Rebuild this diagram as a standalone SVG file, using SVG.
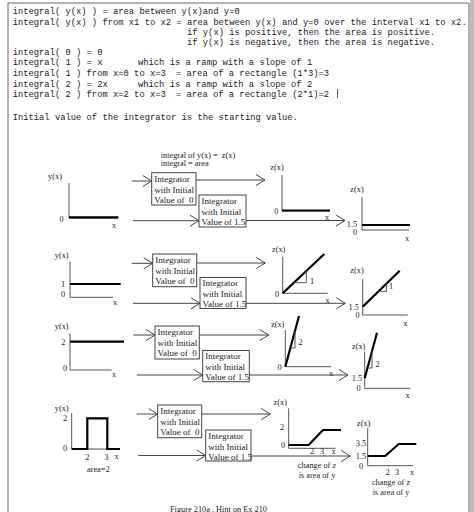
<svg xmlns="http://www.w3.org/2000/svg" width="474" height="512" viewBox="0 0 474 512">
<style>
.mono{font-family:"Liberation Mono","Courier New",monospace;font-size:8.8px;fill:#222}
.s{font-family:"Liberation Serif","Times New Roman",serif;font-size:8.3px;fill:#222}
.m{text-anchor:middle}
.bx{fill:#fff;stroke:#444;stroke-width:1}
.bt{font-family:"Liberation Serif","Times New Roman",serif;font-size:9px;fill:#222}
.ax{fill:none;stroke:#555;stroke-width:1}
.th{fill:none;stroke:#000;stroke-width:2.2}
.cn{fill:none;stroke:#444;stroke-width:1}
.ar{fill:none;stroke:#444;stroke-width:1;marker-end:url(#chev)}
</style>
<defs>
<marker id="chev" markerUnits="userSpaceOnUse" markerWidth="12" markerHeight="14" refX="10" refY="6.5" orient="auto" viewBox="0 0 12 14">
<path d="M1,1 L10,6.5 L1,12" fill="none" stroke="#444" stroke-width="1"/>
</marker>
</defs>
<rect width="474" height="512" fill="#fff"/>
<g id="frame">
<path d="M8,512 V3 H469 V512" fill="none" stroke="#666" stroke-width="1"/>
<rect x="470" y="0" width="4" height="512" fill="#bbb"/>
</g>
<g id="notes">
<text class="mono" x="12.7" y="13.7">integral( y(x) ) = area between y(x)and y=0</text>
<text class="mono" x="12.7" y="24.5">integral( y(x) ) from x1 to x2 = area between y(x) and y=0 over the interval x1 to x2.</text>
<text class="mono" x="187" y="34.7">if y(x) is positive, then the area is positive.</text>
<text class="mono" x="187" y="44.7">if y(x) is negative, then the area is negative.</text>
<text class="mono" x="12.7" y="54.5">integral( 0 ) = 0</text>
<text class="mono" x="12.7" y="64.5">integral( 1 ) = x</text>
<text class="mono" x="138" y="64.5">which is a ramp with a slope of 1</text>
<text class="mono" x="12.7" y="76">integral( 1 ) from x=0 to x=3</text>
<text class="mono" x="176" y="76">= area of a rectangle (1*3)=3</text>
<text class="mono" x="12.7" y="86.5">integral( 2 ) = 2x</text>
<text class="mono" x="138" y="86.5">which is a ramp with a slope of 2</text>
<text class="mono" x="12.7" y="97">integral( 2 ) from x=2 to x=3</text>
<text class="mono" x="176" y="97">= area of a rectangle (2*1)=2</text>
<line x1="337.5" y1="89" x2="337.5" y2="98" stroke="#333" stroke-width="0.8"/>
<text class="mono" x="12.7" y="120.3">Initial value of the integrator is the starting value.</text>
</g>
<g id="heading">
<text class="s" x="160.7" y="157.5" xml:space="preserve">integral of y(x) =  z(x)</text>
<text class="s" x="160.7" y="166">integral = area</text>
</g>
<g id="connectors">
<line class="ar" x1="131.7" y1="181" x2="151.7" y2="181"/>
<line class="ar" x1="196" y1="180" x2="265" y2="180"/>
<line class="ar" x1="133" y1="220.7" x2="199" y2="220.7"/>
<line class="ar" x1="246" y1="220.5" x2="345" y2="220.5"/>
<line class="ar" x1="131.7" y1="263.3" x2="152.7" y2="263.3"/>
<line class="ar" x1="196.7" y1="263" x2="265.3" y2="263"/>
<line class="ar" x1="133" y1="303.3" x2="200" y2="303.3"/>
<line class="ar" x1="246" y1="303.3" x2="345.3" y2="303.3"/>
<line class="ar" x1="133.3" y1="335" x2="155" y2="335"/>
<line class="ar" x1="199.3" y1="335" x2="268.7" y2="335"/>
<line class="ar" x1="136.7" y1="375" x2="202.7" y2="375"/>
<line class="ar" x1="249.3" y1="375" x2="348" y2="375"/>
<line class="ar" x1="136.7" y1="414" x2="157.7" y2="414"/>
<line class="ar" x1="201.7" y1="414" x2="270.3" y2="414"/>
<line class="ar" x1="138.3" y1="455.5" x2="205.7" y2="455.5"/>
<line class="ar" x1="251" y1="456" x2="350.3" y2="456"/>
</g>
<g id="int1a"><rect class="bx" x="151.7" y="172.7" width="44.3" height="32.3"/>
<text class="bt" x="154.2" y="181.5">Integrator</text><text class="bt" x="154.2" y="192.5">with Initial</text><text class="bt" x="154.2" y="202.5" xml:space="preserve">Value of  0</text></g>
<g id="int1b"><rect class="bx" x="199" y="195" width="47" height="32"/>
<text class="bt" x="201.5" y="203.8">Integrator</text><text class="bt" x="201.5" y="214.8">with Initial</text><text class="bt" x="201.5" y="224.8">Value of 1.5</text></g>
<g id="int2a"><rect class="bx" x="152.7" y="254" width="44" height="32.7"/>
<text class="bt" x="155.2" y="262.8">Integrator</text><text class="bt" x="155.2" y="273.8">with Initial</text><text class="bt" x="155.2" y="283.8" xml:space="preserve">Value of  0</text></g>
<g id="int2b"><rect class="bx" x="200" y="277.5" width="46" height="31"/>
<text class="bt" x="202.5" y="286.3">Integrator</text><text class="bt" x="202.5" y="297.3">with Initial</text><text class="bt" x="202.5" y="307">Value of 1.5</text></g>
<g id="int3a"><rect class="bx" x="155" y="326" width="44.3" height="33"/>
<text class="bt" x="157.5" y="334.8">Integrator</text><text class="bt" x="157.5" y="345.8">with Initial</text><text class="bt" x="157.5" y="355.8" xml:space="preserve">Value of  0</text></g>
<g id="int3b"><rect class="bx" x="202.7" y="350.5" width="46.6" height="31.2"/>
<text class="bt" x="205.2" y="359.3">Integrator</text><text class="bt" x="205.2" y="370.3">with Initial</text><text class="bt" x="205.2" y="380.3">Value of 1.5</text></g>
<g id="int4a"><rect class="bx" x="157.7" y="405" width="44" height="32.7"/>
<text class="bt" x="160.2" y="413.8">Integrator</text><text class="bt" x="160.2" y="424.8">with Initial</text><text class="bt" x="160.2" y="434.8" xml:space="preserve">Value of  0</text></g>
<g id="int4b"><rect class="bx" x="205.7" y="430" width="45.3" height="31"/>
<text class="bt" x="208.2" y="438.8">Integrator</text><text class="bt" x="208.2" y="449.8">with Initial</text><text class="bt" x="208.2" y="459.6">Value of 1.5</text></g>
<g id="plot-y1">
<path class="ax" d="M69,183 V218 H118"/><path class="th" d="M69,217.3 H118.3"/>
<text class="s m" x="55" y="178.5">y(x)</text><text class="s m" x="61.7" y="222">0</text><text class="s m" x="114" y="227.5">x</text>
</g>
<g id="plot-z1a">
<path class="ax" d="M282,175 V211 H330"/><path class="th" d="M282,210.5 H330"/>
<text class="s m" x="277" y="169.5">z(x)</text><text class="s m" x="276.3" y="214">0</text><text class="s m" x="327" y="219.5">x</text>
</g>
<g id="plot-z1b">
<path class="ax" d="M362,197 V230 H409"/><path class="th" d="M362,225 H410"/>
<text class="s m" x="357" y="192">z(x)</text><text class="s m" x="352" y="226.5">1.5</text><text class="s m" x="355" y="235">0</text><text class="s m" x="407" y="240.5">x</text>
</g>
<g id="plot-y2">
<path class="ax" d="M70,261.7 V297.3 H113"/><path class="th" d="M70,284 H120.7"/>
<text class="s m" x="61.7" y="258">y(x)</text><text class="s m" x="63" y="287">1</text><text class="s m" x="63" y="297">0</text><text class="s m" x="115" y="305">x</text>
</g>
<g id="plot-z2a">
<path class="ax" d="M282.7,256.7 V293.3 H327.7"/><path class="th" d="M282.7,293.3 L324.3,254"/>
<path class="ax" d="M294,282.7 H306.3 V271"/>
<text class="s m" x="278.7" y="252">z(x)</text><text class="s m" x="312" y="283.5">1</text><text class="s m" x="277" y="297">0</text><text class="s m" x="327.7" y="302.5">x</text>
</g>
<g id="plot-z2b">
<path class="ax" d="M362.7,279.3 V315 H407.7"/><path class="th" d="M362.7,306.7 L399.7,270.7"/>
<path class="ax" d="M378.5,291.3 H386.5 V283.5"/>
<text class="s m" x="357" y="273">z(x)</text><text class="s m" x="391" y="289">1</text><text class="s m" x="353.7" y="309.5">1.5</text><text class="s m" x="357.7" y="318">0</text><text class="s m" x="405.3" y="325.5">x</text>
</g>
<g id="plot-y3">
<path class="ax" d="M70,333.3 V370 H111.7"/><path class="th" d="M70,341.7 H124"/>
<text class="s m" x="61.7" y="329">y(x)</text><text class="s m" x="63.3" y="344.5">2</text><text class="s m" x="65" y="371">0</text><text class="s m" x="114" y="377">x</text>
</g>
<g id="plot-z3a">
<path class="ax" d="M285.3,330 V366.7 H331"/><path class="th" d="M285.3,366.7 L299,316"/>
<path class="ax" d="M290.3,348 H295 V331"/>
<text class="s m" x="277.7" y="327">z(x)</text><text class="s m" x="300.5" y="344.5">2</text><text class="s m" x="279.7" y="369.5">0</text><text class="s m" x="331" y="375.5">x</text>
</g>
<g id="plot-z3b">
<path class="ax" d="M364.7,351.7 V388.3 H410.3"/><path class="th" d="M364.7,378.3 L377,332.7"/>
<path class="ax" d="M367.5,368 H372 V351.3"/>
<text class="s m" x="358.7" y="349">z(x)</text><text class="s m" x="377.5" y="367">2</text><text class="s m" x="357" y="381">1.5</text><text class="s m" x="358.7" y="391">0</text><text class="s m" x="407.7" y="397.5">x</text>
</g>
<g id="plot-y4">
<path class="ax" d="M71.7,413.3 V449 H120"/><path class="th" d="M71.7,449 H87.3 V418.3 H107.3 V449 H120"/>
<text class="s m" x="61.7" y="411">y(x)</text><text class="s m" x="65" y="421">2</text><text class="s m" x="65" y="451">0</text>
<text class="s m" x="87.3" y="459.5">2</text><text class="s m" x="106.7" y="459.5">3</text><text class="s m" x="116.7" y="458.5">x</text>
<text class="s m" x="98.3" y="472">area=2</text>
</g>
<g id="plot-z4a">
<path class="ax" d="M288.7,408.3 V448.3 H335.3"/><path class="th" d="M288.7,445 H308.7 L323,430 H341"/>
<text class="s m" x="280.3" y="404.5">z(x)</text><text class="s m" x="282" y="430">2</text><text class="s m" x="283" y="448">0</text>
<text class="s m" x="312" y="454">2</text><text class="s m" x="322" y="454">3</text><text class="s m" x="333.7" y="454">x</text>
<text class="s m" x="317" y="467.5">change of z</text><text class="s m" x="317" y="477.5">is area of y</text>
</g>
<g id="plot-z4b">
<path class="ax" d="M367.7,428.3 V465.7 H413"/><path class="th" d="M367.7,456 H385.3 L398.7,444 H416.3"/>
<text class="s m" x="363.7" y="426">z(x)</text><text class="s m" x="361" y="446">3.5</text><text class="s m" x="361" y="459">1.5</text><text class="s m" x="361" y="468.5">0</text>
<text class="s m" x="387.7" y="475">2</text><text class="s m" x="397" y="475">3</text><text class="s m" x="412" y="475">x</text>
<text class="s m" x="391" y="485">change of z</text><text class="s m" x="391" y="495">is area of y</text>
</g>
<g id="caption">
<text class="s" x="170" y="511.5">Figure 210a , Hint on Ex 210</text>
</g>
</svg>
